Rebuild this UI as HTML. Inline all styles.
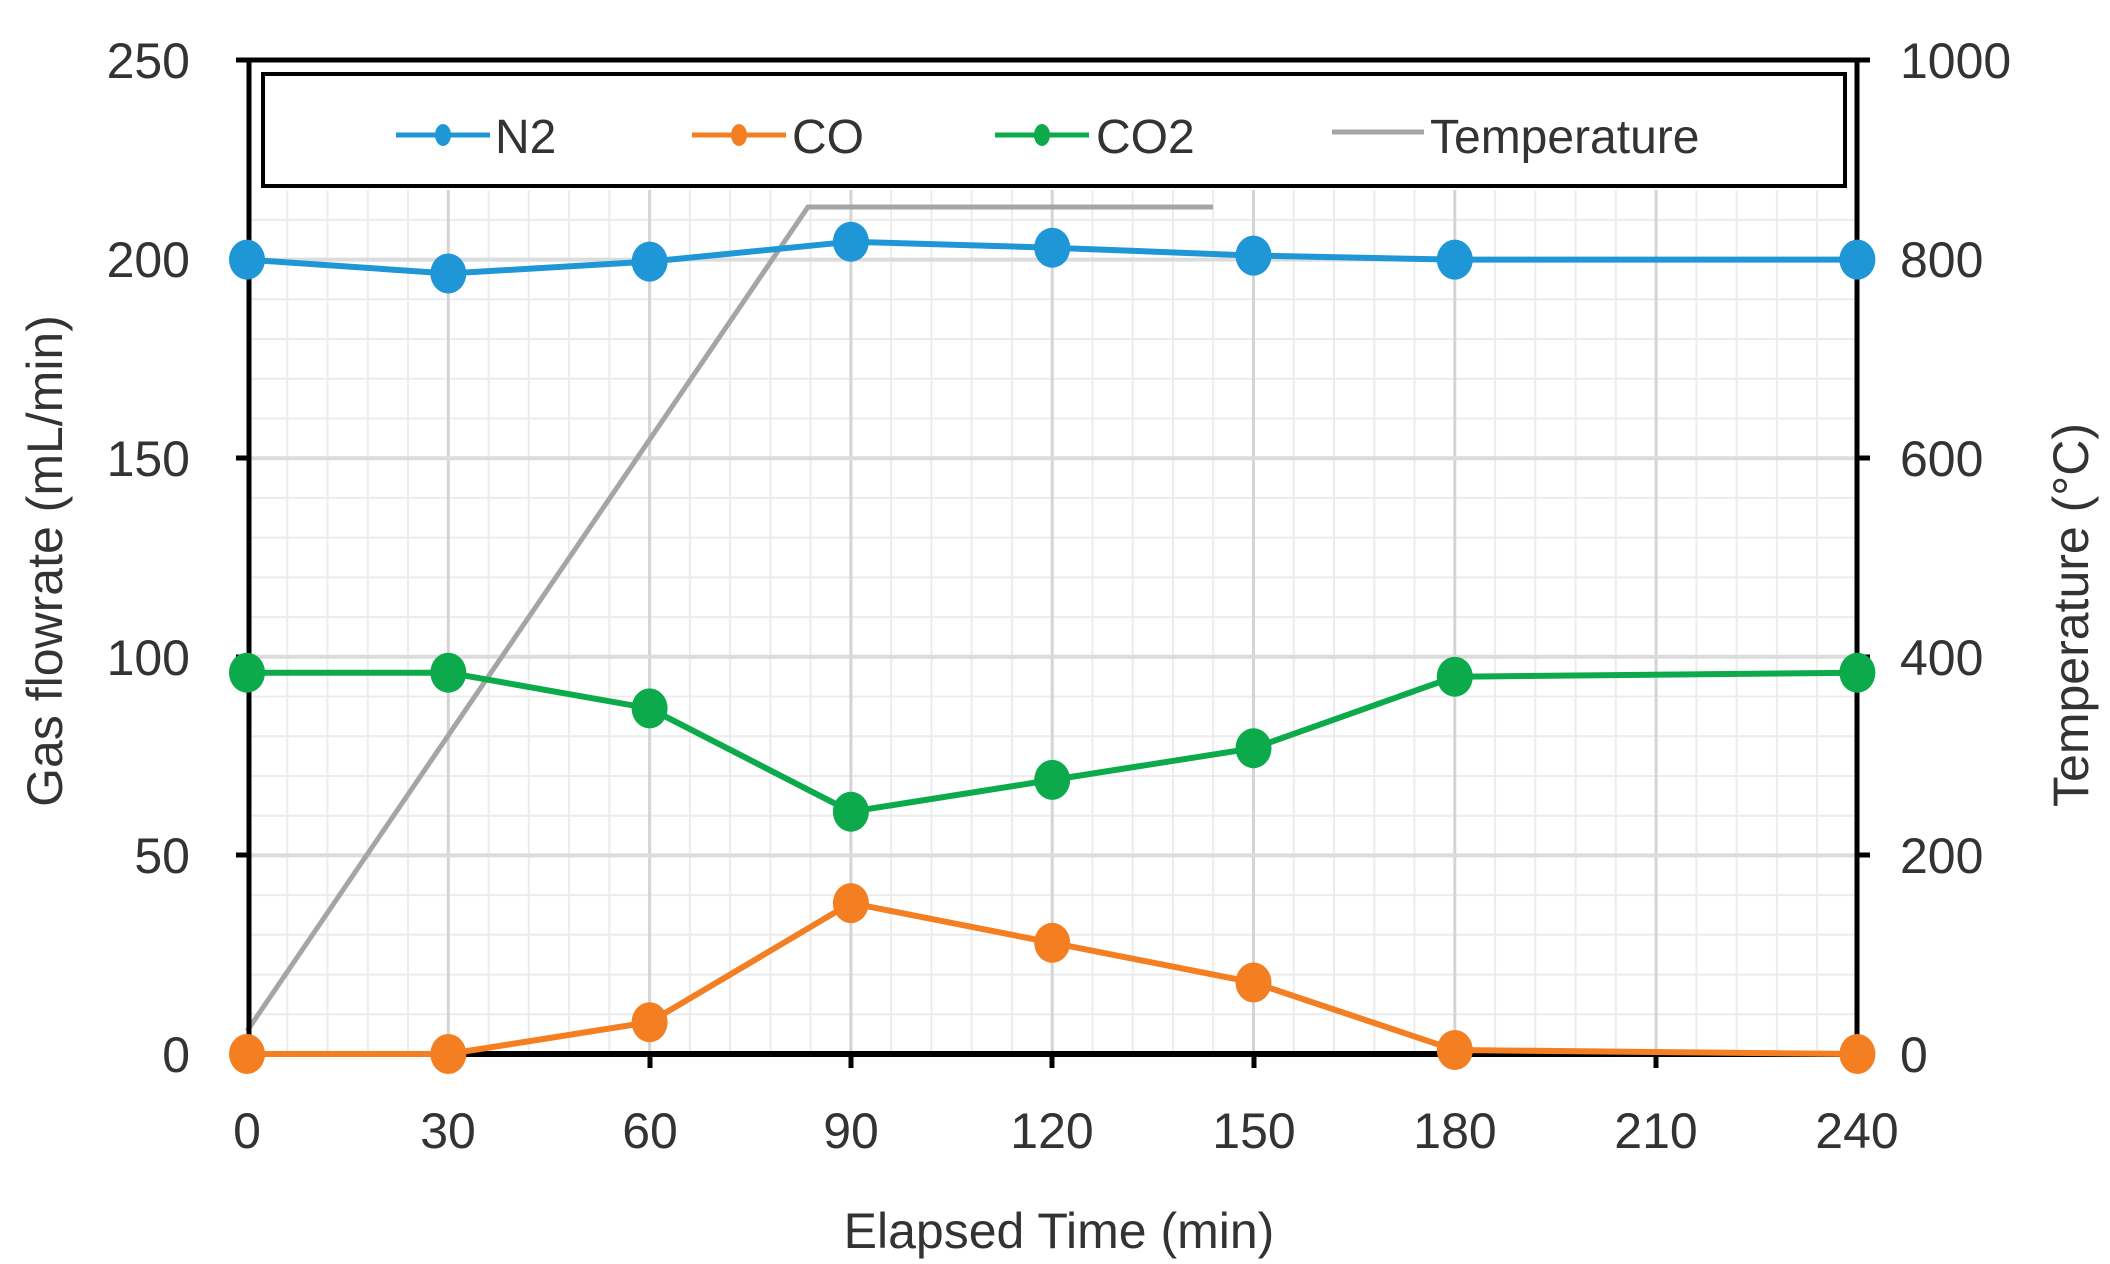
<!DOCTYPE html>
<html><head><meta charset="utf-8"><style>body{margin:0;background:#fff}svg{display:block}text{font-family:"Liberation Sans",sans-serif;fill:#333}</style></head>
<body>
<svg width="2110" height="1264" viewBox="0 0 2110 1264" xmlns="http://www.w3.org/2000/svg">
<path fill="none" stroke="#ececec" stroke-width="2" d="M287.3 190V1054M327.5 190V1054M367.8 190V1054M408 190V1054M488.6 190V1054M528.8 190V1054M569.1 190V1054M609.3 190V1054M689.9 190V1054M730.1 190V1054M770.4 190V1054M810.6 190V1054M891.2 190V1054M931.4 190V1054M971.7 190V1054M1011.9 190V1054M1092.5 190V1054M1132.7 190V1054M1173 190V1054M1213.2 190V1054M1293.8 190V1054M1334 190V1054M1374.3 190V1054M1414.5 190V1054M1495.1 190V1054M1535.3 190V1054M1575.6 190V1054M1615.8 190V1054M1696.4 190V1054M1736.6 190V1054M1776.9 190V1054M1817.1 190V1054
M249 1014.3H1857M249 974.6H1857M249 934.8H1857M249 895.1H1857M249 815.7H1857M249 776H1857M249 736.2H1857M249 696.5H1857M249 617.1H1857M249 577.4H1857M249 537.6H1857M249 497.9H1857M249 418.5H1857M249 378.8H1857M249 339H1857M249 299.3H1857M249 219.9H1857"/>
<path fill="none" stroke="#d4d4d4" stroke-width="3" d="M448.3 190V1054M649.6 190V1054M850.9 190V1054M1052.2 190V1054M1253.5 190V1054M1454.8 190V1054M1656.1 190V1054"/>
<path fill="none" stroke="#dcdcdc" stroke-width="4" d="M249 855.4H1857M249 656.8H1857M249 458.2H1857M249 259.6H1857"/>
<!-- temperature -->
<polyline points="247,1031 808,207 1213,207" fill="none" stroke="#a5a5a5" stroke-width="5"/>
<!-- axes -->
<line x1="249" y1="58" x2="249" y2="1056" stroke="#000" stroke-width="5"/>
<line x1="1857" y1="58" x2="1857" y2="1056" stroke="#000" stroke-width="5"/>
<line x1="236" y1="60" x2="1870" y2="60" stroke="#000" stroke-width="5"/>
<line x1="247" y1="1054" x2="1859" y2="1054" stroke="#000" stroke-width="6"/>
<g stroke="#000" stroke-width="5">
<line x1="236" y1="259" x2="249" y2="259"/><line x1="236" y1="458" x2="249" y2="458"/><line x1="236" y1="657" x2="249" y2="657"/><line x1="236" y1="855" x2="249" y2="855"/><line x1="236" y1="1054" x2="249" y2="1054"/>
<line x1="1857" y1="259" x2="1870" y2="259"/><line x1="1857" y1="458" x2="1870" y2="458"/><line x1="1857" y1="657" x2="1870" y2="657"/><line x1="1857" y1="855" x2="1870" y2="855"/>
<line x1="448" y1="1054" x2="448" y2="1068"/><line x1="650" y1="1054" x2="650" y2="1068"/><line x1="851" y1="1054" x2="851" y2="1068"/><line x1="1052" y1="1054" x2="1052" y2="1068"/><line x1="1254" y1="1054" x2="1254" y2="1068"/><line x1="1455" y1="1054" x2="1455" y2="1068"/><line x1="1656" y1="1054" x2="1656" y2="1068"/>
</g>
<!-- legend -->
<rect x="263" y="74" width="1582" height="112" fill="#fff" stroke="#000" stroke-width="4"/>
<g stroke-width="5">
<line x1="396" y1="135" x2="490" y2="135" stroke="#1f96d6"/><ellipse cx="443" cy="135" rx="8" ry="11" fill="#1f96d6"/>
<line x1="692" y1="135" x2="786" y2="135" stroke="#f47f22"/><ellipse cx="739" cy="135" rx="8" ry="11" fill="#f47f22"/>
<line x1="995" y1="135" x2="1089" y2="135" stroke="#0caa4a"/><ellipse cx="1042" cy="135" rx="8" ry="11" fill="#0caa4a"/>
<line x1="1332" y1="132" x2="1424" y2="132" stroke="#a5a5a5"/>
</g>
<g font-size="48">
<text x="495" y="153">N2</text><text x="792" y="153">CO</text><text x="1096" y="153">CO2</text><text x="1430" y="153">Temperature</text>
</g>
<!-- series -->
<g fill="#1f96d6">
<polyline points="247,259.6 448.3,273.5 649.6,261.6 850.9,241.7 1052.2,247.7 1253.5,255.6 1454.8,259.6 1857.4,259.6" fill="none" stroke="#1f96d6" stroke-width="6"/>
<ellipse cx="247" cy="259.6" rx="18" ry="20"/><ellipse cx="448.3" cy="273.5" rx="18" ry="20"/><ellipse cx="649.6" cy="261.6" rx="18" ry="20"/><ellipse cx="850.9" cy="241.7" rx="18" ry="20"/><ellipse cx="1052.2" cy="247.7" rx="18" ry="20"/><ellipse cx="1253.5" cy="255.6" rx="18" ry="20"/><ellipse cx="1454.8" cy="259.6" rx="18" ry="20"/><ellipse cx="1857.4" cy="259.6" rx="18" ry="20"/>
</g>
<g fill="#0caa4a">
<polyline points="247,672.7 448.3,672.7 649.6,708.4 850.9,811.7 1052.2,779.9 1253.5,748.2 1454.8,676.7 1857.4,672.7" fill="none" stroke="#0caa4a" stroke-width="6"/>
<ellipse cx="247" cy="672.7" rx="18" ry="20"/><ellipse cx="448.3" cy="672.7" rx="18" ry="20"/><ellipse cx="649.6" cy="708.4" rx="18" ry="20"/><ellipse cx="850.9" cy="811.7" rx="18" ry="20"/><ellipse cx="1052.2" cy="779.9" rx="18" ry="20"/><ellipse cx="1253.5" cy="748.2" rx="18" ry="20"/><ellipse cx="1454.8" cy="676.7" rx="18" ry="20"/><ellipse cx="1857.4" cy="672.7" rx="18" ry="20"/>
</g>
<g fill="#f47f22">
<polyline points="247,1054 448.3,1054 649.6,1022.2 850.9,903.1 1052.2,942.8 1253.5,982.5 1454.8,1050 1857.4,1054" fill="none" stroke="#f47f22" stroke-width="6"/>
<ellipse cx="247" cy="1054" rx="18" ry="20"/><ellipse cx="448.3" cy="1054" rx="18" ry="20"/><ellipse cx="649.6" cy="1022.2" rx="18" ry="20"/><ellipse cx="850.9" cy="903.1" rx="18" ry="20"/><ellipse cx="1052.2" cy="942.8" rx="18" ry="20"/><ellipse cx="1253.5" cy="982.5" rx="18" ry="20"/><ellipse cx="1454.8" cy="1050" rx="18" ry="20"/><ellipse cx="1857.4" cy="1054" rx="18" ry="20"/>
</g>
<!-- tick labels -->
<g font-size="50" text-anchor="end">
<text x="190" y="78">250</text><text x="190" y="277">200</text><text x="190" y="476">150</text><text x="190" y="675">100</text><text x="190" y="873">50</text><text x="190" y="1072">0</text>
</g>
<g font-size="50" text-anchor="start">
<text x="1900" y="78">1000</text><text x="1900" y="277">800</text><text x="1900" y="476">600</text><text x="1900" y="675">400</text><text x="1900" y="873">200</text><text x="1900" y="1072">0</text>
</g>
<g font-size="50" text-anchor="middle">
<text x="247" y="1148">0</text><text x="448" y="1148">30</text><text x="650" y="1148">60</text><text x="851" y="1148">90</text><text x="1052" y="1148">120</text><text x="1254" y="1148">150</text><text x="1455" y="1148">180</text><text x="1656" y="1148">210</text><text x="1857" y="1148">240</text>
</g>
<text x="1059" y="1248" font-size="50" text-anchor="middle">Elapsed Time (min)</text>
<text transform="translate(62,561) rotate(-90)" font-size="50" text-anchor="middle">Gas flowrate (mL/min)</text>
<text transform="translate(2088,615) rotate(-90)" font-size="50" text-anchor="middle">Temperature (°C)</text>
</svg>
</body></html>
